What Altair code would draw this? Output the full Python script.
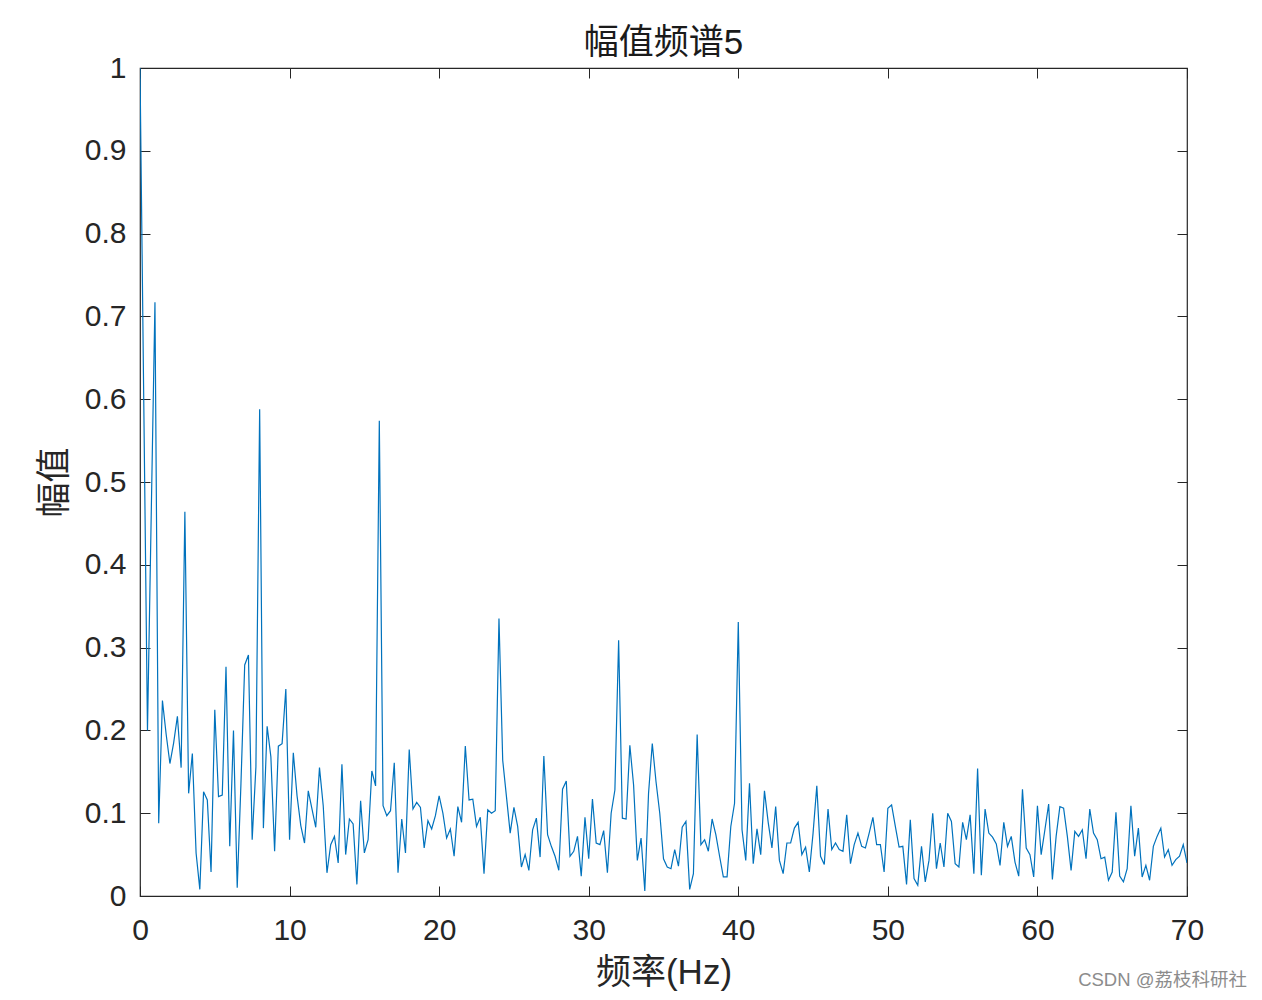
import altair as alt
import pandas as pd

# amplitude values, 0.25 Hz resolution, 0 .. 70 Hz
amps_00_10 = [1.0, 0.60, 0.20, 0.46, 0.717, 0.088, 0.236, 0.195, 0.160, 0.185,
              0.217, 0.155, 0.464, 0.124, 0.172, 0.052, 0.008, 0.126, 0.116, 0.029,
              0.225, 0.120, 0.122, 0.277, 0.060, 0.200, 0.010, 0.136, 0.279, 0.291,
              0.068, 0.156, 0.588, 0.082, 0.205, 0.168, 0.054, 0.181, 0.184, 0.250,
              0.068]
amps_10_20 = [0.173, 0.121, 0.085, 0.064, 0.127, 0.105, 0.083, 0.155, 0.109, 0.028,
              0.062, 0.072, 0.040, 0.159, 0.050, 0.093, 0.087, 0.014, 0.115, 0.052,
              0.068, 0.151, 0.133, 0.574, 0.109, 0.097, 0.103, 0.161, 0.028, 0.093,
              0.052, 0.177, 0.105, 0.113, 0.107, 0.058, 0.091, 0.081, 0.097, 0.121]
amps_20_30 = [0.100, 0.070, 0.081, 0.048, 0.108, 0.089, 0.181, 0.116, 0.117, 0.084,
              0.095, 0.027, 0.104, 0.100, 0.103, 0.335, 0.164, 0.120, 0.076, 0.107,
              0.084, 0.035, 0.050, 0.031, 0.080, 0.094, 0.047, 0.169, 0.074, 0.060,
              0.048, 0.031, 0.129, 0.139, 0.048, 0.054, 0.072, 0.024, 0.095, 0.045]
amps_30_40 = [0.117, 0.064, 0.062, 0.079, 0.028, 0.100, 0.128, 0.309, 0.094, 0.093,
              0.182, 0.134, 0.043, 0.070, 0.006, 0.124, 0.184, 0.138, 0.100, 0.045,
              0.035, 0.033, 0.056, 0.036, 0.083, 0.090, 0.008, 0.027, 0.195, 0.062,
              0.068, 0.054, 0.093, 0.074, 0.048, 0.023, 0.023, 0.084, 0.112, 0.331]
amps_40_50 = [0.080, 0.043, 0.136, 0.039, 0.081, 0.050, 0.127, 0.089, 0.058, 0.108,
              0.043, 0.027, 0.064, 0.064, 0.082, 0.089, 0.050, 0.059, 0.029, 0.076,
              0.133, 0.048, 0.038, 0.105, 0.056, 0.064, 0.056, 0.054, 0.098, 0.039,
              0.062, 0.076, 0.060, 0.058, 0.076, 0.095, 0.062, 0.062, 0.029, 0.106]
amps_50_60 = [0.110, 0.084, 0.059, 0.060, 0.014, 0.092, 0.021, 0.013, 0.060, 0.017,
              0.043, 0.100, 0.033, 0.064, 0.035, 0.100, 0.090, 0.039, 0.035, 0.089,
              0.068, 0.098, 0.027, 0.154, 0.025, 0.105, 0.076, 0.071, 0.063, 0.037,
              0.089, 0.060, 0.072, 0.041, 0.024, 0.129, 0.058, 0.050, 0.023, 0.109]
amps_60_70 = [0.050, 0.080, 0.111, 0.020, 0.072, 0.108, 0.106, 0.072, 0.031, 0.078,
              0.072, 0.080, 0.045, 0.105, 0.076, 0.068, 0.045, 0.047, 0.019, 0.029,
              0.101, 0.024, 0.017, 0.033, 0.109, 0.048, 0.082, 0.023, 0.037, 0.019,
              0.060, 0.072, 0.082, 0.047, 0.056, 0.037, 0.044, 0.048, 0.062, 0.040]

amps = amps_00_10 + amps_10_20 + amps_20_30 + amps_30_40 + amps_40_50 + amps_50_60 + amps_60_70
freqs = [i * 0.25 for i in range(len(amps))]

x_ticks = [0, 10, 20, 30, 40, 50, 60, 70]
y_ticks = [0, 0.1, 0.2, 0.3, 0.4, 0.5, 0.6, 0.7, 0.8, 0.9, 1]

title_text = "幅值频谱5"
x_title = "频率(Hz)"
y_title = "幅值"
watermark = "CSDN @荔枝科研社"

df = pd.DataFrame({"f": freqs, "a": amps})

FONT = "Liberation Sans, Arial, 'Noto Sans CJK SC', sans-serif"
AX = "#262626"
LINE = "#0072BD"

xs = alt.Scale(domain=[0, 70], nice=False, zero=False)
ys = alt.Scale(domain=[0, 1], nice=False, zero=False)

common_axis = dict(domain=False, grid=False, tickColor=AX, tickWidth=1, tickSize=10,
                   offset=-10, labelColor=AX, labelFont=FONT, labelFontSize=30,
                   titleColor=AX, titleFont=FONT, titleFontSize=35, titleFontWeight="normal")

line = alt.Chart(df).mark_line(color=LINE, strokeWidth=1.2, clip=True).encode(
    x=alt.X("f:Q", scale=xs,
            axis=alt.Axis(orient="bottom", values=x_ticks, title=x_title, labelPadding=19,
                          titlePadding=10, labelFlush=False, format="d", **common_axis)),
    y=alt.Y("a:Q", scale=ys,
            axis=alt.Axis(orient="left", values=y_ticks, title=y_title, labelPadding=14,
                          titlePadding=12, labelFlush=False, format=".1~f", **common_axis)),
)

frame = alt.Chart(df).mark_line(strokeOpacity=0).encode(
    x=alt.X("f:Q", scale=xs,
            axis=alt.Axis(orient="top", values=x_ticks, labels=False, title="", **common_axis)),
    y=alt.Y("a:Q", scale=ys,
            axis=alt.Axis(orient="right", values=y_ticks, labels=False, title="", **common_axis)),
)

wm = alt.Chart(pd.DataFrame({"t": [watermark]})).mark_text(
    align="right", baseline="alphabetic", fontSize=18.5, color="#8c8c8c", font=FONT
).encode(text="t:N", x=alt.value(1107), y=alt.value(918))

chart = alt.layer(line, frame, wm).resolve_scale(x="independent", y="independent").properties(
    width=1047,
    height=828,
    autosize=alt.AutoSizeParams(type="none"),
    padding={"left": 132, "top": 60, "right": 67, "bottom": 96},
    title=alt.TitleParams(title_text, fontSize=35, font=FONT, fontWeight="normal",
                          color="#1a1a1a", offset=-8, anchor="middle"),
).configure(
    background="white",
    view=alt.ViewConfig(stroke=AX, strokeWidth=1.2),
)

chart.save("out.html", embed_options={"renderer": "svg", "actions": False})
